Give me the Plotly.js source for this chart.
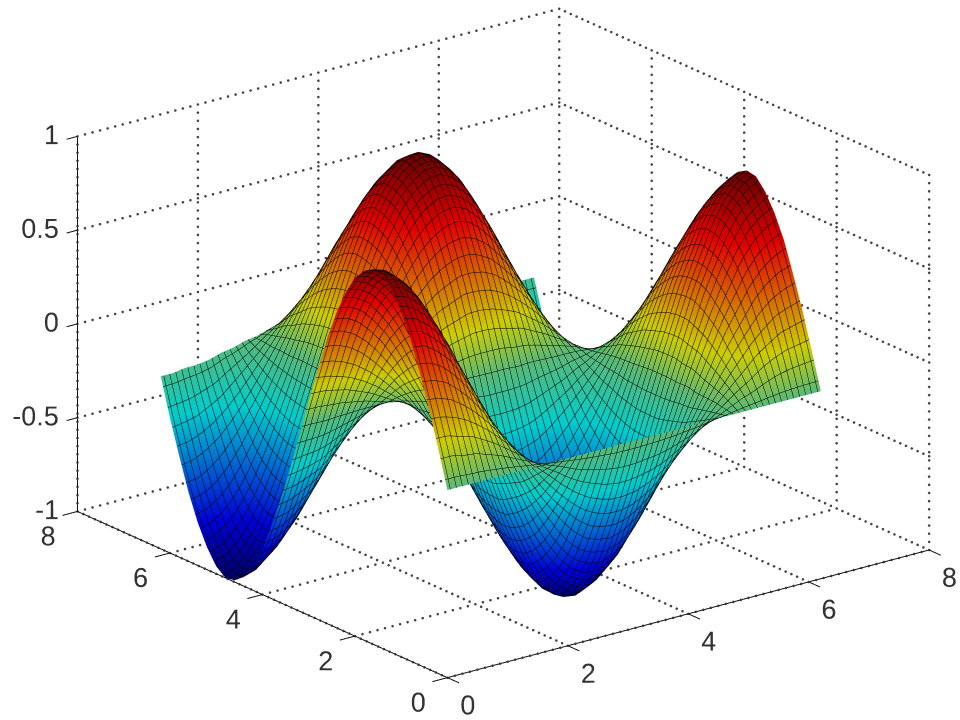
<!DOCTYPE html>
<html><head><meta charset="utf-8">
<script src="https://cdn.plot.ly/plotly-3.0.1.min.js"></script>
<style>html,body{margin:0;padding:0;background:#fff}#g{width:960px;height:720px}</style></head>
<body><div id="g"></div>
<script>
const xValues=[0,.2,.4,.6,.8,1,1.2,1.4,1.6,1.8,2,2.2,2.4,2.6,2.8,3,3.2,3.4,3.6,3.8,4,4.2,4.4,4.6,4.8,5,5.2,5.4,5.6,5.8,6,6.2];
const yValues=[0,.2,.4,.6,.8,1,1.2,1.4,1.6,1.8,2,2.2,2.4,2.6,2.8,3,3.2,3.4,3.6,3.8,4,4.2,4.4,4.6,4.8,5,5.2,5.4,5.6,5.8,6,6.2];
const zValues=[
[0,0,0,0,0,0,0,0,0,0,0,0,0,0,0,0,0,0,0,0,0,0,0,0,0,0,0,0,0,0,0,0],
[.20,.20,.18,.17,.14,.11,.07,.03,-.01,-.05,-.08,-.12,-.15,-.17,-.19,-.20,-.20,-.19,-.18,-.16,-.13,-.10,-.06,-.02,.02,.06,.09,.13,.16,.18,.19,.20],
[.39,.38,.36,.32,.27,.21,.14,.07,-.01,-.09,-.16,-.23,-.29,-.34,-.37,-.39,-.39,-.38,-.35,-.31,-.25,-.19,-.12,-.04,.04,.11,.18,.25,.30,.35,.37,.39],
[.56,.55,.52,.46,.39,.30,.20,.10,-.02,-.13,-.24,-.33,-.41,-.48,-.53,-.55,-.56,-.54,-.50,-.44,-.36,-.27,-.17,-.06,.05,.16,.26,.35,.44,.50,.54,.56],
[.72,.71,.66,.60,.50,.39,.26,.12,-.02,-.17,-.30,-.42,-.53,-.62,-.68,-.71,-.72,-.70,-.65,-.57,-.47,-.35,-.22,-.08,.06,.20,.34,.45,.56,.64,.69,.72],
[.84,.82,.77,.70,.59,.45,.30,.14,-.03,-.19,-.35,-.50,-.62,-.72,-.79,-.83,-.84,-.81,-.76,-.66,-.55,-.41,-.26,-.09,.08,.24,.39,.53,.66,.75,.81,.84],
[.93,.91,.86,.77,.65,.50,.33,.16,-.03,-.21,-.39,-.55,-.69,-.80,-.87,-.92,-.93,-.90,-.84,-.73,-.60,-.46,-.29,-.10,.08,.26,.44,.59,.73,.83,.89,.93],
[.99,.97,.91,.82,.69,.53,.36,.17,-.03,-.23,-.42,-.58,-.73,-.85,-.93,-.98,-.99,-.96,-.89,-.78,-.64,-.49,-.31,-.11,.09,.28,.47,.62,.77,.88,.95,.99],
[1,.98,.92,.83,.70,.54,.36,.17,-.03,-.23,-.42,-.59,-.74,-.86,-.94,-.99,-1,-.97,-.90,-.79,-.65,-.49,-.31,-.11,.09,.28,.47,.63,.78,.89,.96,1],
[.97,.95,.89,.81,.68,.52,.35,.16,-.03,-.22,-.41,-.57,-.72,-.83,-.91,-.96,-.97,-.94,-.87,-.77,-.63,-.48,-.30,-.11,.09,.27,.46,.61,.76,.86,.93,.97],
[.91,.89,.84,.76,.64,.49,.33,.15,-.03,-.21,-.38,-.54,-.67,-.78,-.86,-.90,-.91,-.88,-.82,-.72,-.59,-.45,-.28,-.10,.08,.25,.43,.57,.71,.81,.87,.91],
[.81,.79,.75,.67,.57,.44,.29,.14,-.02,-.19,-.34,-.48,-.60,-.70,-.76,-.80,-.81,-.79,-.73,-.64,-.53,-.40,-.25,-.09,.07,.23,.38,.51,.63,.72,.78,.81],
[.68,.67,.63,.56,.48,.37,.24,.12,-.02,-.16,-.29,-.40,-.50,-.58,-.64,-.67,-.68,-.66,-.61,-.54,-.44,-.33,-.21,-.07,.06,.19,.32,.43,.53,.61,.65,.68],
[.52,.51,.48,.43,.36,.28,.19,.09,-.02,-.12,-.22,-.31,-.38,-.45,-.49,-.51,-.52,-.50,-.47,-.41,-.34,-.25,-.16,-.06,.05,.15,.24,.33,.41,.46,.50,.52],
[.33,.32,.30,.27,.23,.18,.12,.06,-.01,-.08,-.14,-.19,-.24,-.28,-.31,-.33,-.33,-.32,-.30,-.26,-.21,-.16,-.10,-.04,.03,.09,.16,.21,.26,.29,.32,.33],
[.14,.14,.13,.12,.10,.08,.05,.02,0,-.03,-.06,-.08,-.10,-.12,-.13,-.14,-.14,-.14,-.13,-.11,-.09,-.07,-.04,-.02,.01,.04,.07,.09,.11,.12,.13,.14],
[-.06,-.06,-.06,-.05,-.04,-.03,-.02,-.01,0,.01,.03,.04,.04,.05,.06,.06,.06,.06,.05,.05,.04,.03,.02,.01,-.01,-.02,-.03,-.04,-.05,-.05,-.06,-.06],
[-.26,-.25,-.24,-.22,-.18,-.14,-.09,-.04,.01,.06,.11,.15,.19,.22,.24,.26,.26,.25,.23,.21,.17,.13,.08,.03,-.02,-.07,-.12,-.16,-.20,-.23,-.25,-.26],
[-.44,-.43,-.40,-.37,-.31,-.24,-.16,-.07,.01,.10,.18,.26,.33,.38,.41,.44,.44,.43,.40,.35,.29,.22,.14,.05,-.04,-.12,-.21,-.28,-.34,-.39,-.42,-.44],
[-.61,-.60,-.56,-.51,-.43,-.33,-.22,-.10,.02,.14,.26,.36,.45,.52,.57,.60,.61,.59,.55,.48,.40,.30,.19,.07,-.05,-.17,-.29,-.38,-.48,-.54,-.59,-.61],
[-.76,-.74,-.70,-.63,-.53,-.41,-.27,-.13,.02,.17,.32,.45,.56,.65,.71,.75,.76,.74,.68,.60,.49,.37,.24,.08,-.07,-.21,-.36,-.48,-.59,-.68,-.73,-.76],
[-.87,-.85,-.80,-.72,-.61,-.47,-.31,-.15,.03,.20,.37,.51,.64,.75,.82,.86,.87,.84,.78,.69,.57,.43,.27,.10,-.08,-.24,-.41,-.55,-.68,-.77,-.84,-.87],
[-.95,-.93,-.87,-.79,-.67,-.51,-.34,-.16,.03,.22,.40,.56,.70,.82,.89,.94,.95,.92,.86,.75,.62,.47,.29,.10,-.09,-.27,-.45,-.60,-.74,-.85,-.91,-.95],
[-.99,-.97,-.91,-.82,-.69,-.53,-.36,-.17,.03,.23,.42,.58,.73,.85,.93,.98,.99,.96,.89,.78,.64,.49,.31,.11,-.09,-.28,-.47,-.62,-.77,-.88,-.95,-.99],
[-1,-.98,-.92,-.83,-.70,-.54,-.36,-.17,.03,.23,.42,.59,.74,.86,.94,.99,1,.97,.90,.79,.65,.49,.31,.11,-.09,-.28,-.47,-.63,-.78,-.89,-.96,-1],
[-.96,-.94,-.88,-.80,-.67,-.52,-.35,-.16,.03,.22,.40,.57,.71,.83,.90,.95,.96,.93,.86,.76,.62,.47,.30,.11,-.09,-.27,-.45,-.60,-.75,-.85,-.92,-.96],
[-.88,-.86,-.81,-.73,-.62,-.48,-.32,-.15,.03,.20,.37,.52,.65,.76,.83,.87,.88,.85,.79,.70,.57,.43,.27,.10,-.08,-.25,-.41,-.55,-.69,-.78,-.84,-.88],
[-.77,-.75,-.71,-.64,-.54,-.42,-.28,-.13,.02,.18,.32,.45,.57,.66,.72,.76,.77,.75,.69,.61,.50,.38,.24,.08,-.07,-.22,-.36,-.49,-.60,-.69,-.74,-.77],
[-.63,-.62,-.58,-.52,-.44,-.34,-.23,-.11,.02,.14,.26,.37,.47,.54,.59,.62,.63,.61,.57,.50,.41,.31,.20,.07,-.06,-.18,-.30,-.40,-.49,-.56,-.60,-.63],
[-.46,-.45,-.42,-.38,-.32,-.25,-.17,-.08,.01,.11,.19,.27,.34,.40,.43,.46,.46,.45,.41,.36,.30,.23,.14,.05,-.04,-.13,-.22,-.29,-.36,-.41,-.44,-.46],
[-.28,-.27,-.26,-.23,-.20,-.15,-.10,-.05,.01,.06,.12,.17,.21,.24,.26,.28,.28,.27,.25,.22,.18,.14,.09,.03,-.03,-.08,-.13,-.18,-.22,-.25,-.27,-.28],
[-.08,-.08,-.07,-.07,-.06,-.04,-.03,-.01,0,.02,.03,.05,.06,.07,.08,.08,.08,.08,.07,.06,.05,.04,.02,.01,-.01,-.02,-.04,-.05,-.06,-.07,-.08,-.08]];
const xTicks=[0,2,4,6,8];
const yTicks=[0,2,4,6,8];
const zTicks=[-1,-0.5,0,0.5,1];
const zTickLabels=['-1','-0.5','0','0.5','1'];
const jet=[[0,'rgb(0,0,110)'],[.11,'rgb(0,0,215)'],[.36,'rgb(0,205,205)'],[.5,'rgb(90,185,120)'],[.61,'rgb(205,205,0)'],[.86,'rgb(225,0,0)'],[1,'rgb(110,0,0)']];

const X0=0,X1=8,Y0=0,Y1=8,Z0=-1,Z1=1;
function seg(list){const o={x:[],y:[],z:[]};list.forEach(s=>{o.x.push(s[0],s[3],null);o.y.push(s[1],s[4],null);o.z.push(s[2],s[5],null);});return o;}
const dot={x:[],y:[],z:[]};
function dotLine(a,b,gap){const n=Math.round(gap);for(let i=0;i<=n;i++){const t=i/n;dot.x.push(a[0]+(b[0]-a[0])*t);dot.y.push(a[1]+(b[1]-a[1])*t);dot.z.push(a[2]+(b[2]-a[2])*t);}}
const solid=[];
xTicks.forEach(v=>{dotLine([v,Y1,Z0],[v,Y1,Z1],46);dotLine([v,Y0,Z0],[v,Y1,Z0],64);});
yTicks.forEach(v=>{dotLine([X1,v,Z0],[X1,v,Z1],46);dotLine([X0,v,Z0],[X1,v,Z0],64);});
zTicks.forEach(v=>{dotLine([X0,Y1,v],[X1,Y1,v],64);dotLine([X1,Y0,v],[X1,Y1,v],64);});
solid.push([X0,Y0,Z0,X1,Y0,Z0],[X0,Y0,Z0,X0,Y1,Z0],[X0,Y1,Z0,X0,Y1,Z1]);
xTicks.forEach(v=>solid.push([v,Y0,Z0,v,Y0-.25,Z0]));
yTicks.forEach(v=>solid.push([X0,v,Z0,X0-.25,v,Z0]));
zTicks.forEach(v=>solid.push([X0,Y1,v,X0-.18,Y1,v]));

const base={type:'scatter3d',hoverinfo:'skip',showlegend:false};
const font={family:'Liberation Sans, Arial, sans-serif',size:27,color:'#333'};
const data=[
 {type:'surface',x:xValues,y:yValues,z:zValues,colorscale:jet,cmin:-1,cmax:1,showscale:false,hoverinfo:'skip',
  lighting:{ambient:1,diffuse:0,specular:0,roughness:1,fresnel:0},
  contours:{x:{show:true,start:.05,end:6.2,size:.1,color:'#000',width:3,highlight:false},
            y:{show:true,start:.05,end:6.2,size:.1,color:'#000',width:3,highlight:false},
            z:{highlight:false}}},
 Object.assign({},base,dot,{mode:'markers',marker:{color:'#444',size:1.5,line:{width:0}}}),
 Object.assign({},base,seg(solid),{mode:'lines',line:{color:'#111',width:2}}),
 Object.assign({},base,{mode:'text',x:xTicks.map(v=>v-.05),y:xTicks.map(()=>Y0-.5),z:xTicks.map(()=>Z0-.085),text:xTicks.map(String),textposition:'middle center',textfont:font}),
 Object.assign({},base,{mode:'text',x:yTicks.map(()=>X0-.49),y:yTicks,z:yTicks.map(()=>Z0-.088),text:yTicks.map(String),textposition:'middle center',textfont:font}),
 Object.assign({},base,{mode:'text',x:zTicks.map(()=>X0+.12),y:zTicks.map(()=>Y1),z:zTicks,text:zTickLabels,textposition:'middle left',textfont:font})
];
const hidden=r=>({range:r,autorange:false,showgrid:false,zeroline:false,showline:false,showticklabels:false,ticks:'',showspikes:false,showbackground:false,title:{text:''}});
const R=5;
const layout={width:960,height:720,margin:{l:0,r:0,t:0,b:0},paper_bgcolor:'#fff',showlegend:false,
 scene:{domain:{x:[0,1],y:[0,1]},
  xaxis:hidden([-1,9]),yaxis:hidden([-1,10.008]),zaxis:hidden([-1.293,1.002]),
  aspectmode:'manual',aspectratio:{x:2.109,y:2.3216,z:1.2737},
  camera:{projection:{type:'orthographic'},eye:{x:-.5716*R,y:-.7443*R,z:.345*R},up:{x:0,y:0,z:1},center:{x:0,y:0,z:0}}}};
Plotly.newPlot('g',data,layout,{displayModeBar:false});
</script></body></html>
